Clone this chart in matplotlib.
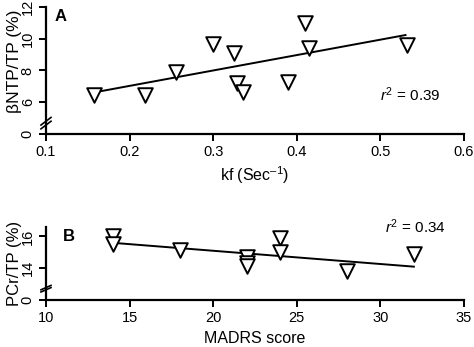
import matplotlib
matplotlib.use("Agg")
import matplotlib.pyplot as plt
import numpy as np

plt.rcParams['font.family'] = ['Liberation Sans', 'DejaVu Sans']
plt.rcParams['mathtext.fontset'] = 'custom'
plt.rcParams['mathtext.rm'] = 'Liberation Sans'
plt.rcParams['mathtext.it'] = 'Liberation Sans:italic'
plt.rcParams['mathtext.default'] = 'regular'

# Panel A data
kf = [0.157, 0.219, 0.256, 0.300, 0.325, 0.328, 0.336, 0.389, 0.410, 0.415, 0.532]
ntp = [6.45, 6.45, 7.9, 9.65, 9.1, 7.2, 6.65, 7.3, 11.0, 9.4, 9.6]
fitA_x = [0.157, 0.53]
fitA_y = [6.61, 10.23]
xticksA = [0.1, 0.2, 0.3, 0.4, 0.5, 0.6]
xticklabelsA = ['0.1', '0.2', '0.3', '0.4', '0.5', '0.6']
yticksA_vals = [4, 6, 8, 10, 12]
yticklabelsA = ['0', '6', '8', '10', '12']

# Panel B data
madrs = [14, 14, 18, 22, 22, 22, 24, 24, 28, 32]
pcr = [16.0, 15.55, 15.17, 14.7, 14.35, 14.15, 15.9, 15.0, 13.8, 14.9]
fitB_x = [14, 32]
fitB_y = [15.6, 14.1]
xticksB = [10, 15, 20, 25, 30, 35]
yticksB_vals = [12, 14, 16]
yticklabelsB = ['0', '14', '16']

fig = plt.figure(figsize=(4.74, 3.47), dpi=100)
axA = fig.add_axes([0.097, 0.614, 0.882, 0.366])
axB = fig.add_axes([0.097, 0.1354, 0.882, 0.2106])

def style(ax):
    for s in ['top', 'right']:
        ax.spines[s].set_visible(False)
    for s in ['left', 'bottom']:
        ax.spines[s].set_linewidth(1.6)
    ax.tick_params(direction='out', length=5, width=1.4, labelsize=10.5, pad=3)
    for lab in ax.get_yticklabels():
        lab.set_rotation(90)
        lab.set_va('center')

def brk(ax, yfrac):
    ax.plot([-0.012, 0.012], [yfrac - 0.03, yfrac + 0.03], transform=ax.transAxes,
            color='black', lw=1.2, clip_on=False, zorder=5)
    ax.plot([-0.012, 0.012], [yfrac - 0.06, yfrac], transform=ax.transAxes,
            color='black', lw=1.2, clip_on=False, zorder=5)

# Panel A
axA.scatter(kf, ntp, marker='v', s=110, facecolors='white', edgecolors='black',
            linewidths=1.4, zorder=3)
axA.plot(fitA_x, fitA_y, color='black', lw=1.4, zorder=2)
axA.set_xlim(0.1, 0.6)
axA.set_ylim(4, 12)
axA.set_xticks(xticksA)
axA.set_xticklabels(xticklabelsA)
axA.set_yticks(yticksA_vals)
axA.set_yticklabels(yticklabelsA)
style(axA)
axA.set_xlabel('kf (Sec$^{\u20131}$)', fontsize=11.5, labelpad=4)
axA.set_ylabel('\u03b2NTP/TP (%)', fontsize=12.5)
axA.yaxis.set_label_coords(-0.058, 0.57)
axA.text(0.02, 0.98, 'A', transform=axA.transAxes, fontsize=12, fontweight='bold',
         va='top', ha='left')
axA.text(0.80, 0.31, '$\\it{r}^{2}$ = 0.39', transform=axA.transAxes, fontsize=11,
         ha='left', va='center')
brk(axA, 0.10)

# Panel B
axB.scatter(madrs, pcr, marker='v', s=110, facecolors='white', edgecolors='black',
            linewidths=1.4, zorder=3)
axB.plot(fitB_x, fitB_y, color='black', lw=1.4, zorder=2)
axB.set_xlim(10, 35)
axB.set_ylim(12, 16.6)
axB.set_xticks(xticksB)
axB.set_yticks(yticksB_vals)
axB.set_yticklabels(yticklabelsB)
style(axB)
axB.set_xlabel('MADRS score', fontsize=11.5, labelpad=4)
axB.set_ylabel('PCr/TP (%)', fontsize=12)
axB.yaxis.set_label_coords(-0.058, 0.5)
axB.text(0.04, 0.97, 'B', transform=axB.transAxes, fontsize=12, fontweight='bold',
         va='top', ha='left')
axB.text(0.81, 1.0, '$\\it{r}^{2}$ = 0.34', transform=axB.transAxes, fontsize=11,
         ha='left', va='center')
brk(axB, 0.17)

fig.savefig('out.png', dpi=100)
